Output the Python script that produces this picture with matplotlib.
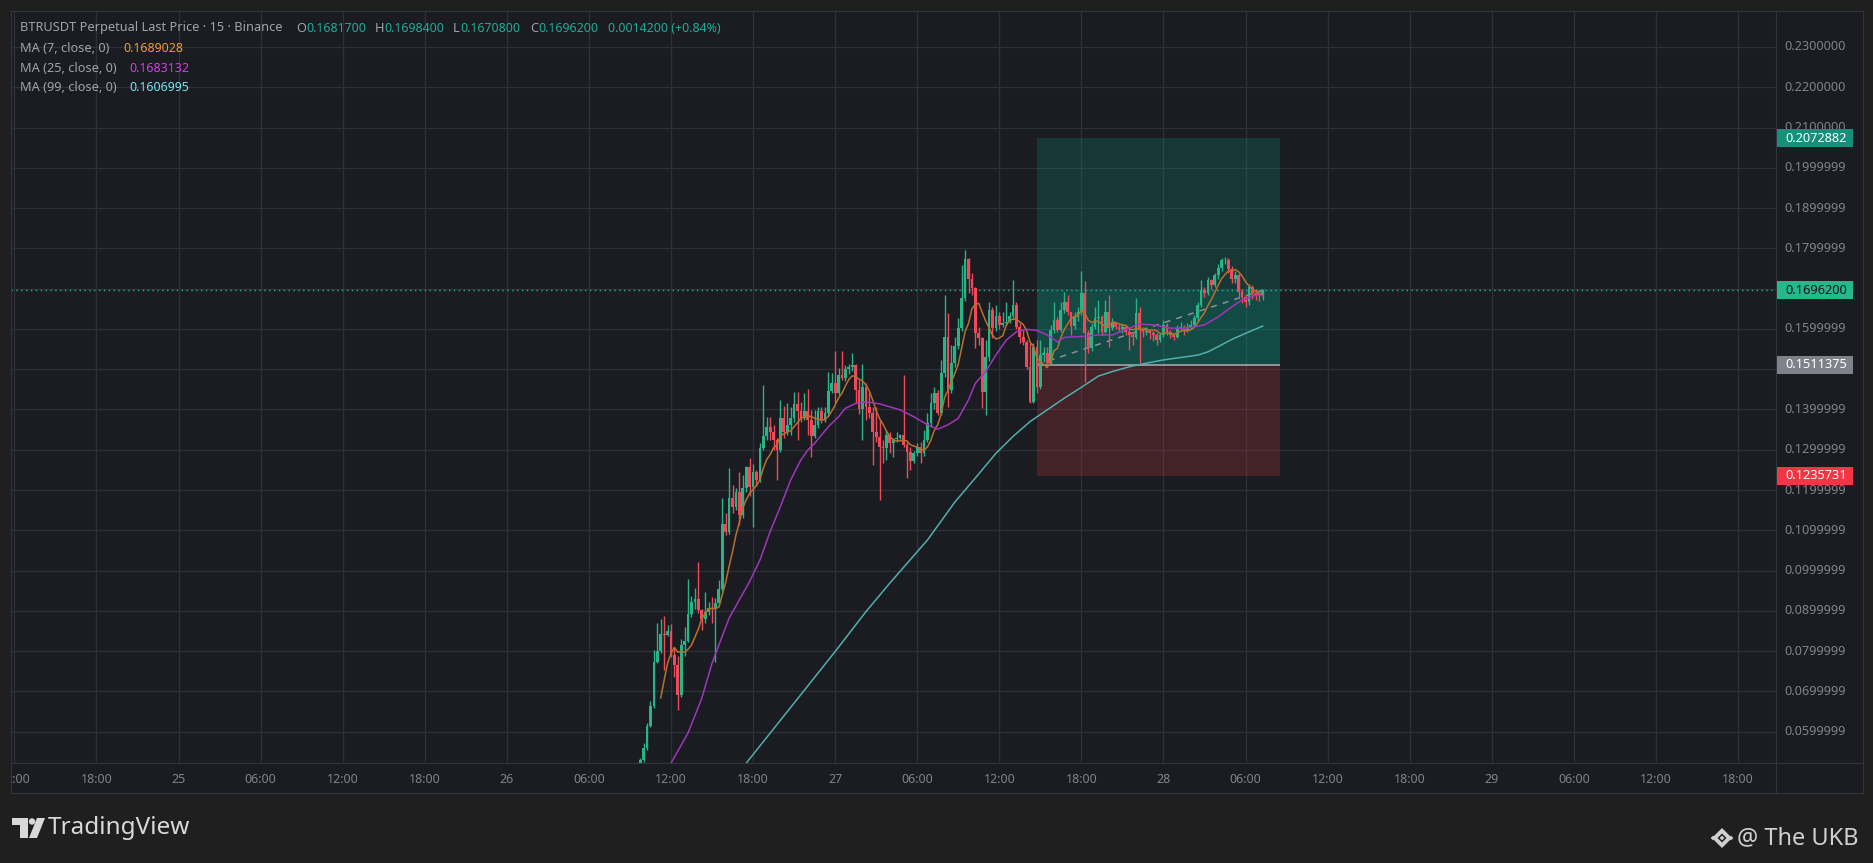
import numpy as np
import pandas as pd
import matplotlib
matplotlib.use("Agg")
import matplotlib.pyplot as plt
from matplotlib.patches import Rectangle, Polygon, RegularPolygon, Circle
from matplotlib.transforms import IdentityTransform

plt.rcParams['font.family'] = ['Noto Sans', 'DejaVu Sans']

# ---- data (15m candles, BTRUSDT perp) : first candle = 26th 09:45 ----
first_open = 0.0505
closes = [
    0.0530, 0.0559, 0.0615, 0.0665, 0.0774, 0.0800, 0.0843, 0.0840, 0.0850, 0.0791,
    0.0766, 0.0692, 0.0816, 0.0826, 0.0893, 0.0923, 0.0929, 0.0903, 0.0879, 0.0898,
    0.0907, 0.0905, 0.0919, 0.0954, 0.1116, 0.1095, 0.1180, 0.1159, 0.1196, 0.1138,
    0.1204, 0.1258, 0.1208, 0.1246, 0.1225, 0.1304, 0.1334, 0.1356, 0.1343, 0.1324,
    0.1299, 0.1380, 0.1343, 0.1361, 0.1380, 0.1413, 0.1395, 0.1380, 0.1395, 0.1374,
    0.1334, 0.1361, 0.1395, 0.1374, 0.1392, 0.1447, 0.1466, 0.1440, 0.1486, 0.1478,
    0.1500, 0.1505, 0.1510, 0.1448, 0.1400, 0.1457, 0.1407, 0.1392, 0.1345, 0.1332,
    0.1308, 0.1304, 0.1337, 0.1316, 0.1326, 0.1330, 0.1337, 0.1312, 0.1295, 0.1273,
    0.1291, 0.1308, 0.1291, 0.1324, 0.1366, 0.1415, 0.1442, 0.1391, 0.1490, 0.1581,
    0.1448, 0.1515, 0.1558, 0.1602, 0.1678, 0.1773, 0.1723, 0.1701, 0.1591, 0.1577,
    0.1444, 0.1531, 0.1647, 0.1602, 0.1632, 0.1610, 0.1614, 0.1618, 0.1632, 0.1659,
    0.1606, 0.1581, 0.1568, 0.1506, 0.1419, 0.1556, 0.1457, 0.1535, 0.1540, 0.1515,
    0.1597, 0.1622, 0.1597, 0.1647, 0.1668, 0.1643, 0.1607, 0.1630, 0.1643, 0.1688,
    0.1589, 0.1552, 0.1606, 0.1626, 0.1630, 0.1593, 0.1643, 0.1602, 0.1614, 0.1606,
    0.1600, 0.1605, 0.1593, 0.1585, 0.1581, 0.1639, 0.1597, 0.1593, 0.1596, 0.1590,
    0.1585, 0.1572, 0.1585, 0.1610, 0.1593, 0.1585, 0.1580, 0.1602, 0.1605, 0.1597,
    0.1606, 0.1610, 0.1626, 0.1659, 0.1697, 0.1688, 0.1721, 0.1710, 0.1734, 0.1751,
    0.1770, 0.1772, 0.1749, 0.1723, 0.1734, 0.1692, 0.1680, 0.1668, 0.1705, 0.1688,
    0.1684, 0.16817, 0.16962,
]
highs = [
    0.0535, 0.0573, 0.0621, 0.0675, 0.0803, 0.0870, 0.0879, 0.0888, 0.0865, 0.0868,
    0.0810, 0.0787, 0.0831, 0.0861, 0.0980, 0.0936, 0.0956, 0.1022, 0.0905, 0.0948,
    0.0923, 0.0934, 0.0932, 0.0977, 0.1180, 0.1142, 0.1254, 0.1212, 0.1204, 0.1246,
    0.1237, 0.1260, 0.1279, 0.1265, 0.1250, 0.1317, 0.1461, 0.1382, 0.1382, 0.1361,
    0.1330, 0.1423, 0.1409, 0.1417, 0.1407, 0.1444, 0.1444, 0.1419, 0.1440, 0.1452,
    0.1399, 0.1399, 0.1407, 0.1407, 0.1407, 0.1494, 0.1490, 0.1546, 0.1502, 0.1546,
    0.1510, 0.1514, 0.1541, 0.1514, 0.1473, 0.1513, 0.1466, 0.1444, 0.1407, 0.1407,
    0.1374, 0.1324, 0.1349, 0.1345, 0.1330, 0.1345, 0.1340, 0.1486, 0.1320, 0.1306,
    0.1298, 0.1316, 0.1320, 0.1349, 0.1391, 0.1440, 0.1457, 0.1448, 0.1523, 0.1684,
    0.1639, 0.1560, 0.1581, 0.1626, 0.1759, 0.1796, 0.1775, 0.1738, 0.1705, 0.1606,
    0.1581, 0.1572, 0.1668, 0.1655, 0.1659, 0.1643, 0.1643, 0.1668, 0.1643, 0.1721,
    0.1668, 0.1614, 0.1597, 0.1572, 0.1564, 0.1564, 0.1572, 0.1572, 0.1556, 0.1556,
    0.1610, 0.1668, 0.1630, 0.1668, 0.1692, 0.1684, 0.1643, 0.1643, 0.1655, 0.1743,
    0.1718, 0.1597, 0.1614, 0.1655, 0.1672, 0.1635, 0.1672, 0.1684, 0.1626, 0.1618,
    0.1612, 0.1614, 0.1610, 0.1602, 0.1593, 0.1676, 0.1655, 0.1606, 0.1606, 0.1600,
    0.1595, 0.1590, 0.1590, 0.1622, 0.1614, 0.1597, 0.1590, 0.1610, 0.1618, 0.1610,
    0.1614, 0.1622, 0.1635, 0.1668, 0.1721, 0.1705, 0.1730, 0.1725, 0.1740, 0.1760,
    0.1775, 0.1778, 0.1775, 0.1755, 0.1745, 0.1740, 0.1700, 0.1685, 0.1712, 0.1710,
    0.1700, 0.1695, 0.16984,
]
lows = [
    0.0500, 0.0525, 0.0555, 0.0612, 0.0660, 0.0770, 0.0795, 0.0754, 0.0838, 0.0785,
    0.0737, 0.0654, 0.0685, 0.0787, 0.0822, 0.0885, 0.0905, 0.0895, 0.0853, 0.0870,
    0.0890, 0.0870, 0.0774, 0.0915, 0.0950, 0.1088, 0.1090, 0.1142, 0.1150, 0.1113,
    0.1130, 0.1195, 0.1184, 0.1109, 0.1210, 0.1220, 0.1300, 0.1324, 0.1324, 0.1299,
    0.1225, 0.1295, 0.1330, 0.1337, 0.1337, 0.1370, 0.1324, 0.1370, 0.1375, 0.1337,
    0.1283, 0.1330, 0.1355, 0.1366, 0.1370, 0.1385, 0.1440, 0.1415, 0.1435, 0.1473,
    0.1470, 0.1488, 0.1495, 0.1415, 0.1390, 0.1324, 0.1374, 0.1380, 0.1262, 0.1320,
    0.1176, 0.1266, 0.1275, 0.1291, 0.1283, 0.1320, 0.1326, 0.1308, 0.1229, 0.1250,
    0.1266, 0.1285, 0.1266, 0.1285, 0.1320, 0.1357, 0.1400, 0.1386, 0.1386, 0.1480,
    0.1407, 0.1440, 0.1505, 0.1550, 0.1595, 0.1670, 0.1690, 0.1684, 0.1552, 0.1560,
    0.1403, 0.1386, 0.1520, 0.1577, 0.1595, 0.1600, 0.1606, 0.1610, 0.1614, 0.1626,
    0.1600, 0.1564, 0.1560, 0.1500, 0.1415, 0.1415, 0.1440, 0.1450, 0.1519, 0.1511,
    0.1511, 0.1590, 0.1593, 0.1593, 0.1640, 0.1635, 0.1585, 0.1600, 0.1620, 0.1635,
    0.1469, 0.1540, 0.1545, 0.1600, 0.1589, 0.1585, 0.1589, 0.1556, 0.1597, 0.1600,
    0.1593, 0.1590, 0.1585, 0.1547, 0.1560, 0.1575, 0.1515, 0.1580, 0.1585, 0.1575,
    0.1570, 0.1560, 0.1568, 0.1580, 0.1585, 0.1577, 0.1572, 0.1577, 0.1595, 0.1585,
    0.1593, 0.1600, 0.1605, 0.1620, 0.1655, 0.1680, 0.1684, 0.1700, 0.1705, 0.1725,
    0.1745, 0.1760, 0.1740, 0.1715, 0.1715, 0.1680, 0.1665, 0.1655, 0.1660, 0.1675,
    0.1672, 0.1670, 0.16708,
]

# moving averages (candle index, value)
ma25_idx = [9, 14, 18, 21, 26, 32, 35, 38, 41, 44, 47, 49, 51, 55, 58, 60, 63, 66, 70,
            76, 80, 84, 87, 90, 93, 96, 98, 101, 104, 107, 110, 113, 116, 119, 122, 124,
            129, 134, 138, 143, 146, 150, 155, 160, 165, 169, 173, 176, 180, 182]
ma25_val = [0.0522, 0.0597, 0.0683, 0.0770, 0.0882, 0.0973, 0.1026, 0.1097, 0.1159, 0.1225,
            0.1275, 0.1299, 0.1316, 0.1357, 0.1382, 0.1403, 0.1415, 0.1419, 0.1414, 0.1399,
            0.1382, 0.1362, 0.1351, 0.1362, 0.1378, 0.1424, 0.1465, 0.1494, 0.1535, 0.1572,
            0.1593, 0.1599, 0.1596, 0.1585, 0.1568, 0.1579, 0.1581, 0.1585, 0.1585, 0.1602,
            0.1612, 0.1610, 0.1602, 0.1602, 0.1610, 0.1630, 0.1655, 0.1672, 0.1684, 0.1683]
ma99_idx = [31, 45, 57, 66, 73, 84, 92, 99, 104, 109, 114, 119, 124, 129, 134, 138, 143,
            148, 153, 158, 163, 166, 169, 173, 177, 182]
ma99_val = [0.0522, 0.0671, 0.0799, 0.0898, 0.0969, 0.1076, 0.1170, 0.1240, 0.1291, 0.1333,
            0.1370, 0.1399, 0.1428, 0.1455, 0.1483, 0.1494, 0.1506, 0.1515, 0.1523, 0.1529,
            0.1535, 0.1543, 0.1556, 0.1574, 0.1589, 0.1607]

# long position tool
pos_start, pos_end = 116, 187
entry_price = 0.1511375
target_price = 0.2072882
stop_price = 0.1235731

price_ticks = [0.23, 0.22, 0.21, 0.20, 0.19, 0.18, 0.17, 0.16, 0.15, 0.14, 0.13, 0.12,
               0.11, 0.10, 0.09, 0.08, 0.07, 0.06]
price_tick_labels = ["0.2300000", "0.2200000", "0.2100000", "0.1999999", "0.1899999",
                     "0.1799999", "0.1699999", "0.1599999", "0.1499999", "0.1399999",
                     "0.1299999", "0.1199999", "0.1099999", "0.0999999", "0.0899999",
                     "0.0799999", "0.0699999", "0.0599999"]
time_tick_labels = ["12:00", "18:00", "25", "06:00", "12:00", "18:00", "26", "06:00",
                    "12:00", "18:00", "27", "06:00", "12:00", "18:00", "28", "06:00",
                    "12:00", "18:00", "29", "06:00", "12:00", "18:00"]

# ---- colours ----
OUTER = "#1f1f1f"
BG = "#1a1c22"
GRID = "#2c3039"
BORDER = "#30343d"
AXTXT = "#80838c"
UP = "#2ab486"
DOWN = "#f04a5a"

W, H = 1874, 863
def fx(px):
    return px / W
def fy(py):
    return 1 - py / H

fig = plt.figure(figsize=(W / 100, H / 100), dpi=100, facecolor=OUTER)

# main pane
ax = fig.add_axes([fx(11), fy(763), fx(1776) - fx(11), fy(11) - fy(763)])
ax.set_facecolor(BG)
xlim = ((11 - 640.2) / 3.42, (1776 - 640.2) / 3.42)
ylim = (0.05223, 0.23893)
ax.set_xlim(xlim)
ax.set_ylim(ylim)
ax.set_xticks([])
ax.set_yticks([])
for s in ax.spines.values():
    s.set_color(BORDER)

# 15-minute bars: i = 4*hours - 39 (hours since 26th 00:00)
time_ticks = np.arange(-36, 91, 6) * 4 - 39
for t in time_ticks:
    ax.axvline(t, color=GRID, lw=1, zorder=0)
for p in price_ticks:
    ax.axhline(p, color=GRID, lw=1, zorder=0)

closes = np.array(closes)
highs = np.array(highs)
lows = np.array(lows)
opens = np.concatenate([[first_open], closes[:-1]])
idx = np.arange(len(closes))
is_up = closes >= opens
cols = np.where(is_up, UP, DOWN)

# position tool
width = pos_end - pos_start
last_close = closes[-1]
ax.add_patch(Rectangle((pos_start, entry_price), width, target_price - entry_price,
                       facecolor="#089981", alpha=0.22, lw=0, zorder=1))
ax.add_patch(Rectangle((pos_start, entry_price), width, last_close - entry_price,
                       facecolor="#089981", alpha=0.2, lw=0, zorder=1))
ax.add_patch(Rectangle((pos_start, stop_price), width, entry_price - stop_price,
                       facecolor="#f23645", alpha=0.2, lw=0, zorder=1))
ax.hlines(entry_price, pos_start, pos_end, color="#9a9da5", lw=1.3, zorder=2)
ax.plot([pos_start, idx[-1]], [entry_price, last_close], color="#8d9099",
        lw=1.1, ls=(0, (4, 4)), zorder=2)

# last price line
ax.axhline(last_close, color="#26b58f", lw=1, ls=(0, (1, 2.5)), zorder=2)

# candles
body_lo = np.minimum(opens, closes)
body_h = np.maximum(np.abs(closes - opens), 0.00022)
ax.vlines(idx, lows, highs, colors=cols, lw=1.0, zorder=3)
ax.bar(idx, body_h, bottom=body_lo, width=0.8, color=cols, lw=0, zorder=4)

# moving averages
ma7 = pd.Series(closes).rolling(7).mean()
ax.plot(idx, ma7, color="#b8702e", lw=1.1, zorder=5)
ax.plot(ma25_idx, ma25_val, color="#a036bb", lw=1.1, zorder=5)
ax.plot(ma99_idx, ma99_val, color="#4fb0ac", lw=1.1, zorder=5)

# price scale
pax = fig.add_axes([fx(1776), fy(763), fx(1863) - fx(1776), fy(11) - fy(763)])
pax.set_facecolor(BG)
pax.set_xlim(0, 1)
pax.set_ylim(ylim)
pax.set_xticks([])
pax.set_yticks([])
for s in pax.spines.values():
    s.set_color(BORDER)

box_h = 18 / 4031
flags = [(target_price, "0.2072882", "#15907b", "white"),
         (last_close, "0.1696200", "#27b88a", "#10141c"),
         (entry_price, "0.1511375", "#7f828b", "white"),
         (stop_price, "0.1235731", "#f23645", "white")]
flag_prices = [f[0] for f in flags]
for p, lab in zip(price_ticks, price_tick_labels):
    # labels sitting right under a price flag are hidden, as on the chart
    if min(abs(p - q) for q in flag_prices) < box_h * 0.6:
        continue
    pax.text(0.095, p, lab, color=AXTXT, fontsize=9.2, va="center", ha="left", clip_on=True)

for p, lab, bg, fg in flags:
    pax.add_patch(Rectangle((0.008, p - box_h / 2), 0.88, box_h, facecolor=bg, lw=0, zorder=5))
    pax.text(0.105, p, lab, color=fg, fontsize=9.2, fontweight="bold",
             va="center", ha="left", zorder=6)

# time scale
tax = fig.add_axes([fx(11), fy(793.3), fx(1776) - fx(11), fy(763) - fy(793.3)])
tax.set_facecolor(BG)
tax.set_xlim(xlim)
tax.set_ylim(0, 1)
tax.set_xticks([])
tax.set_yticks([])
for s in tax.spines.values():
    s.set_color(BORDER)
for t, lab in zip(time_ticks, time_tick_labels):
    tax.text(t, 0.45, lab, color=AXTXT, fontsize=9.0, ha="center", va="center", clip_on=True)

cax = fig.add_axes([fx(1776), fy(793.3), fx(1863) - fx(1776), fy(763) - fy(793.3)])
cax.set_facecolor(BG)
cax.set_xticks([])
cax.set_yticks([])
for s in cax.spines.values():
    s.set_color(BORDER)

# legend / header
HDR = "#a0a3ac"
GRN = "#22ab94"
fs = 9.2     # words
fv = 8.9     # numbers
fig.text(fx(20), fy(28), "BTRUSDT Perpetual Last Price · 15 · Binance", color=HDR, fontsize=fs, va="center")
for x0, lab, x1, val in [(296, "O", 306, "0.1681700"), (375, "H", 384, "0.1698400"),
                         (453, "L", 460, "0.1670800"), (530, "C", 538, "0.1696200")]:
    fig.text(fx(x0), fy(28), lab, color=HDR, fontsize=fs, va="center")
    fig.text(fx(x1), fy(28), val, color=GRN, fontsize=fv, va="center")
fig.text(fx(608), fy(28), "0.0014200 (+0.84%)", color=GRN, fontsize=fv, va="center")

for yy, lab, xv, val, c in [(48.5, "MA (7, close, 0)", 123, "0.1689028", "#f59a31"),
                            (68, "MA (25, close, 0)", 129, "0.1683132", "#d63ee0"),
                            (87.5, "MA (99, close, 0)", 129, "0.1606995", "#72e8ee")]:
    fig.text(fx(20), fy(yy), lab, color=HDR, fontsize=fs, va="center")
    fig.text(fx(xv), fy(yy), val, color=c, fontsize=fv, va="center")

# TradingView watermark
px = IdentityTransform()
def P(x, y):
    return (x, H - y)
logo_c = "#d9d9d9"
fig.add_artist(Polygon([P(12, 818), P(28, 818), P(28, 838), P(20, 838), P(20, 825), P(12, 825)],
                       closed=True, transform=px, facecolor=logo_c, lw=0))
fig.add_artist(Circle(P(32, 821.5), 3.2, transform=px, facecolor=logo_c, lw=0))
fig.add_artist(Polygon([P(37, 818), P(45, 818), P(37, 838), P(29, 838)],
                       closed=True, transform=px, facecolor=logo_c, lw=0))
fig.text(fx(48), fy(828), "TradingView", color=logo_c, fontsize=17.5, fontweight="bold", va="center")

# author tag
ic = "#cfcfcf"
cx, cy = 1722, 838
fig.add_artist(RegularPolygon(P(cx, cy), 4, radius=10, transform=px, facecolor=ic, lw=0))
fig.add_artist(RegularPolygon(P(cx, cy), 4, radius=4.5, transform=px, facecolor=OUTER, lw=0))
fig.add_artist(RegularPolygon(P(cx, cy), 4, radius=2.4, transform=px, facecolor=ic, lw=0))
for dx in (-9, 9):
    fig.add_artist(RegularPolygon(P(cx + dx, cy), 4, radius=2.4, transform=px, facecolor=ic, lw=0))
fig.text(fx(1737), fy(838), "@ The UKB", color=ic, fontsize=17, va="center")

fig.savefig("out.png", dpi=100, facecolor=fig.get_facecolor())
